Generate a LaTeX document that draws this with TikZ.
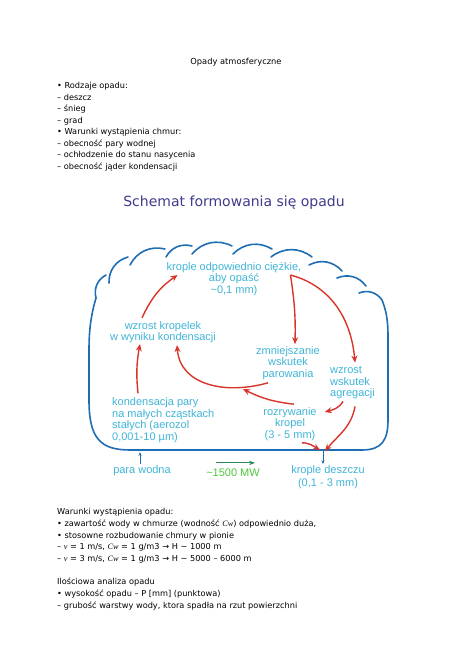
\documentclass[tikz,border=0pt]{standalone}
\usepackage{fontspec}
\setmainfont{DejaVu Sans}
\newfontfamily\arialfont{Liberation Sans}
\newfontfamily\timesfont{Liberation Serif}
\usetikzlibrary{arrows.meta}
\definecolor{cloudblue}{HTML}{1F6DB3}
\definecolor{lblcyan}{HTML}{3FB4D6}
\definecolor{arrred}{HTML}{D8352A}
\definecolor{titleblue}{HTML}{3E3B8C}
\definecolor{mwgreen}{HTML}{4CC83C}
\definecolor{arrgreen}{HTML}{2E8B57}
\newcommand{\velo}{{\timesfont\itshape v}}
\newcommand{\cwat}{{\timesfont\itshape Cw}}

\begin{document}
\begin{tikzpicture}[x=1pt,y=1pt,>=Stealth,
  txt/.style={anchor=base west,inner sep=0pt,font=\fontsize{8.2}{10}\selectfont},
  lbl/.style={inner sep=0pt,align=center,text=lblcyan,font=\arialfont\fontsize{11}{11.5}\selectfont},
  redarr/.style={draw=arrred,line width=1.4pt,-{Stealth[length=7pt,width=6pt]}},
  bluearr/.style={draw=cloudblue,line width=0.6pt,-{Stealth[length=4pt,width=3pt]}},
  greenarr/.style={draw=arrgreen,line width=1.1pt,-{Stealth[length=6pt,width=4.5pt]}},
  cloudline/.style={draw=cloudblue,line width=1.6pt,line cap=round}]
\useasboundingbox (0,0) rectangle (474,670);

% heading and lists
\node[inner sep=0pt,anchor=base,font=\fontsize{8.3}{10}\selectfont] (head) at (236,605) {Opady atmosferyczne};
\foreach \t [count=\i] in {{• Rodzaje opadu:},{– deszcz},{– śnieg},{– grad},{• Warunki wystąpienia chmur:},{– obecność pary wodnej},{– ochłodzenie do stanu nasycenia},{– obecność jąder kondensacji}}
  \node[txt] (top\i) at (57,{581-(\i-1)*11.43}) {\t};

\foreach \t [count=\i] in {{Warunki wystąpienia opadu:},{• zawartość wody w chmurze (wodność \cwat) odpowiednio duża,},{• stosowne rozbudowanie chmury w pionie},{– \velo{} = 1 m/s, \cwat{} = 1 g/m3 → H ∼ 1000 m},{– \velo{} = 3 m/s, \cwat{} = 1 g/m3 → H ∼ 5000 – 6000 m}}
  \node[txt] (war\i) at (57,{155-(\i-1)*11.6}) {\t};

\foreach \t [count=\i] in {{Ilościowa analiza opadu},{• wysokość opadu – P [mm] (punktowa)},{– grubość warstwy wody, ktora spadła na rzut powierzchni}}
  \node[txt] (il\i) at (57,{85-(\i-1)*11.7}) {\t};

% diagram
\node[inner sep=0pt,text=titleblue,font=\fontsize{14}{16}\selectfont] (schem) at (234,467) {Schemat formowania się opadu};

% cloud
\draw[cloudline] (96,372) .. controls (91,355) and (89,340) .. (89,320) -- (89,270)
  .. controls (89,232) and (100,220) .. (130,220) -- (362,220)
  .. controls (382,220) and (388,230) .. (388,250) -- (388,335)
  .. controls (388,350) and (386,360) .. (382,370);
\foreach \sx/\sy/\ex/\ey in {96/372/106/395,109/387/128/413,130/405/165/421,166/413/192/424,192/416/232/424,
    233/416/272/421,271/413/312/413,309/405/342/399,337/392/366/384,359/377/382/370}
  \draw[cloudline] (\sx,\sy) to[bend left=38] (\ex,\ey);

\node[lbl] (kc) at (234,391) {krople odpowiednio ciężkie,\\aby opaść\\\textasciitilde0,1 mm)};
\node[lbl] (wk) at (163,338) {wzrost kropelek\\w wyniku kondensacji};
\node[lbl] (zw) at (288,307) {zmniejszanie\\wskutek\\parowania};
\node[lbl,align=left,anchor=west] (wa) at (330,287) {wzrost\\wskutek\\agregacji};
\node[lbl,align=left,anchor=west] (kp) at (112,250) {kondensacja pary\\na małych cząstkach\\stałych (aerozol\\0,001-10 µm)};
\node[lbl] (rk) at (290,246) {rozrywanie\\kropel\\(3 - 5 mm)};
\node[lbl] (pw) at (142,199) {para wodna};
\node[lbl,text=mwgreen] (mw) at (233,197) {\textasciitilde1500 MW};
\node[lbl,font=\arialfont\fontsize{11}{13}\selectfont] (kd) at (328,193) {krople deszczu\\(0,1 - 3 mm)};

\coordinate (pvin) at (140,219);
\coordinate (kdin) at (323,219);
\coordinate (jn) at (243,281);

% red arrows
\draw[redarr] ([xshift=-21pt,yshift=3pt]wk.north) to[out=65,in=215] ([xshift=11pt,yshift=4pt]kc.west);
\draw[redarr] ([xshift=26pt,yshift=4pt]kp.north west) to[bend left=8] ([xshift=-23pt,yshift=-1pt]wk.south);
\draw[redarr] ([xshift=12pt,yshift=-3pt]zw.south west) .. controls (225,275) and (180,285) .. ([xshift=14pt,yshift=-2pt]wk.south);
\draw[redarr] ([xshift=4pt,yshift=3pt]rk.north) to[bend left=10] (jn);
\draw[redarr] ([xshift=-11pt,yshift=4pt]kc.east) to[bend left=5] ([xshift=7pt,yshift=2pt]zw.north);
\draw[redarr] ([xshift=-11pt,yshift=4pt]kc.east) to[out=-15,in=95] ([xshift=25pt,yshift=4pt]wa.north west);
\draw[redarr] ([xshift=13pt,yshift=-2pt]wa.south west) to[out=-120,in=15] ([xshift=8pt,yshift=12pt]rk.east);
\draw[redarr] ([xshift=25pt,yshift=-7pt]wa.south west) to[out=-100,in=50] ([xshift=2pt]kdin);
\draw[redarr] ([xshift=12pt,yshift=-2pt]rk.south) to[out=0,in=150] ([xshift=-3pt,yshift=1pt]kdin);

% thin arrows
\draw[bluearr] ([xshift=-2pt,yshift=2pt]pw.north) -- ([yshift=-1pt]pvin);
\draw[bluearr] (kdin) -- ([xshift=-5pt,yshift=1pt]kd.north);
\draw[greenarr] ([xshift=-17pt,yshift=6pt]mw.north) -- ([xshift=22pt,yshift=6pt]mw.north);
\end{tikzpicture}
\end{document}
